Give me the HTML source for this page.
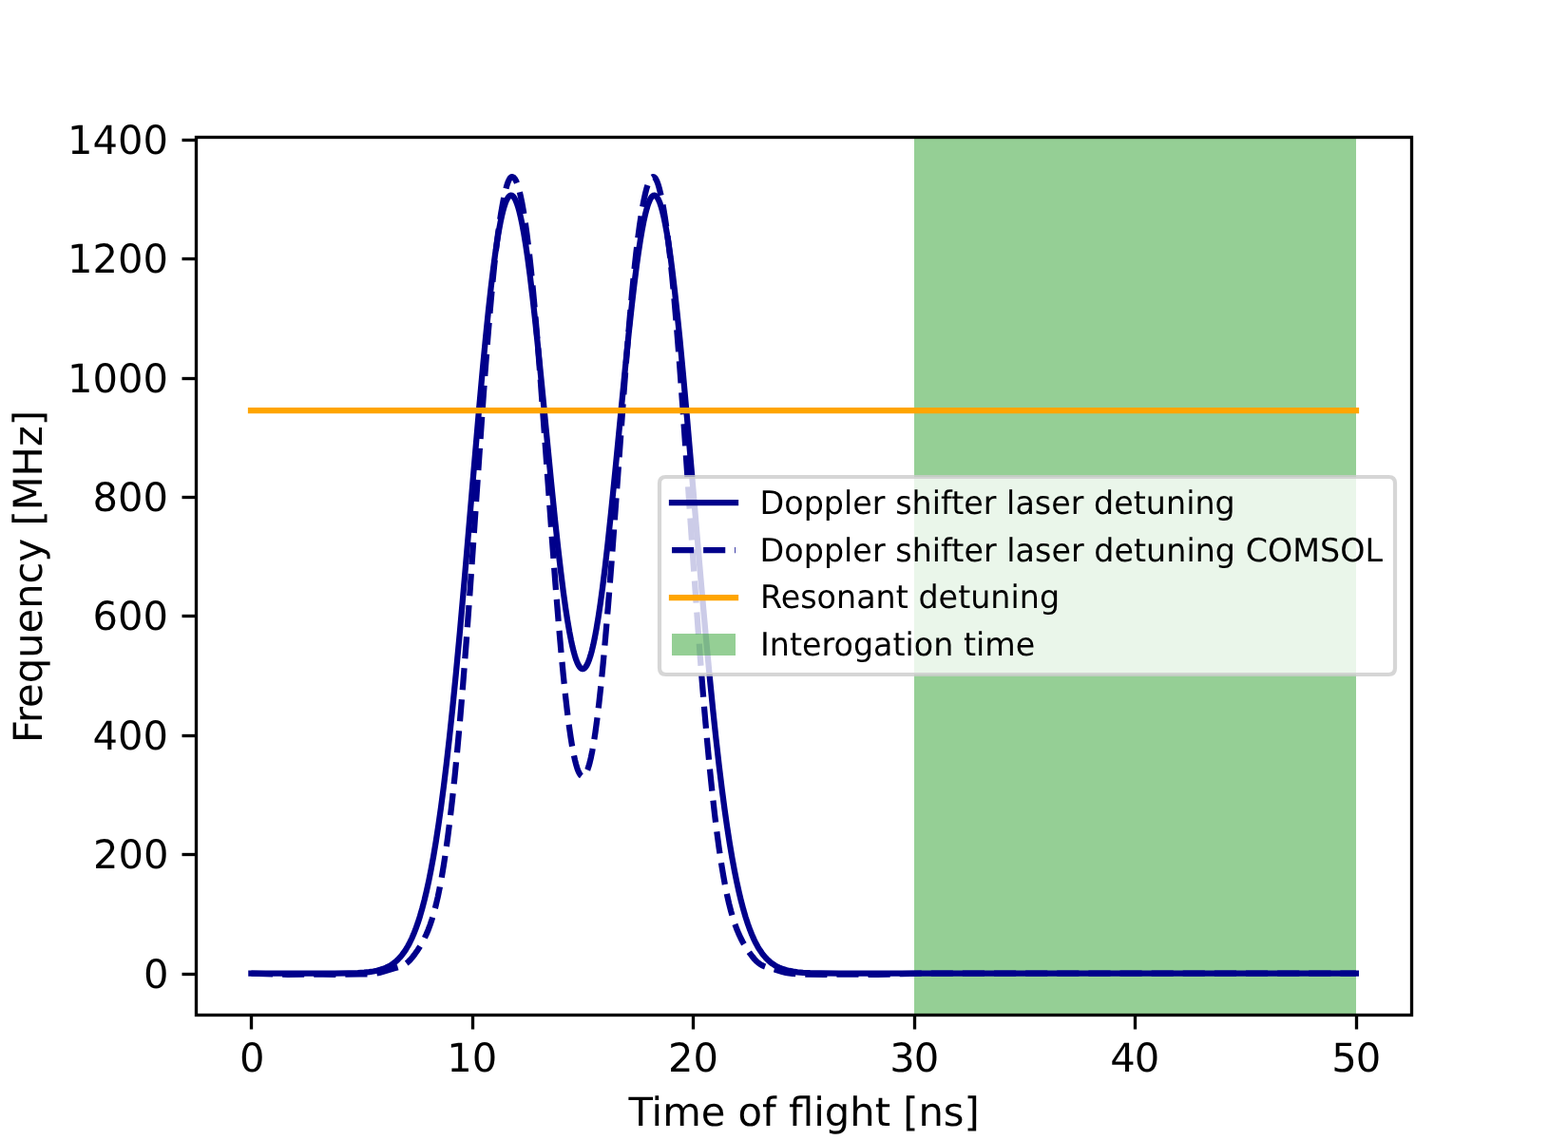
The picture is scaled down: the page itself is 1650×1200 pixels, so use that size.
<!DOCTYPE html>
<html lang="en">
<head>
<meta charset="utf-8">
<title>Doppler shifter laser detuning vs time of flight</title>
<style>
html,body{margin:0;padding:0;background:#fff;overflow:hidden}
svg{display:block}
text{font-family:"DejaVu Sans", "Liberation Sans", sans-serif;fill:#000;text-rendering:geometricPrecision}
.t{font-size:41.667px}
.l{font-size:33.333px}
</style>
</head>
<body>
<svg width="1650" height="1200" viewBox="0 0 1650 1200">
<rect width="1650" height="1200" fill="#fff"/>
<defs><clipPath id="ax"><rect x="206.25" y="144.00" width="1278.75" height="924.00"/></clipPath></defs>
<g clip-path="url(#ax)">
<rect x="962.000" y="144.00" width="465.000" height="924.00" fill="#2ca02c" fill-opacity="0.5"/>
<path d="M264.38 1024.55 L352.14 1024.51 L367.26 1024.34 L376.56 1024.05 L383.24 1023.64 L388.47 1023.12 L392.83 1022.48 L396.61 1021.74 L400.10 1020.84 L403.29 1019.79 L406.20 1018.62 L408.82 1017.35 L411.43 1015.84 L413.76 1014.27 L416.08 1012.45 L418.41 1010.35 L420.73 1007.94 L423.06 1005.19 L425.09 1002.46 L427.12 999.41 L429.16 996.00 L431.19 992.20 L433.23 987.99 L435.26 983.33 L437.30 978.19 L439.62 971.67 L441.95 964.42 L444.27 956.38 L446.60 947.52 L448.92 937.76 L451.25 927.08 L453.57 915.41 L456.19 901.07 L458.80 885.38 L461.42 868.32 L464.03 849.84 L466.94 827.65 L469.85 803.70 L473.04 775.37 L476.24 745.05 L479.73 709.84 L483.80 666.28 L488.74 610.50 L498.04 501.02 L503.85 433.36 L507.92 388.19 L511.12 354.74 L514.02 326.34 L516.64 302.74 L518.96 283.51 L521.00 268.18 L523.03 254.34 L524.78 243.74 L526.52 234.36 L527.97 227.51 L529.42 221.55 L530.59 217.45 L531.75 213.95 L532.91 211.06 L533.78 209.29 L534.66 207.86 L535.53 206.78 L536.40 206.05 L536.98 205.76 L537.56 205.62 L538.14 205.64 L538.73 205.81 L539.31 206.14 L540.18 206.91 L541.05 208.04 L541.92 209.50 L542.79 211.31 L543.96 214.25 L545.12 217.77 L546.57 222.99 L548.02 229.10 L549.48 236.07 L551.22 245.53 L553.26 258.00 L555.29 271.91 L557.62 289.45 L560.23 311.04 L563.14 337.03 L566.62 370.41 L571.57 420.43 L579.99 507.42 L584.06 547.54 L587.26 577.18 L590.17 602.23 L592.78 622.94 L595.11 639.70 L597.14 652.98 L599.17 664.86 L600.92 673.89 L602.37 680.56 L603.83 686.43 L605.28 691.49 L606.44 694.94 L607.60 697.84 L608.48 699.66 L609.35 701.18 L610.22 702.38 L611.09 703.27 L611.96 703.84 L612.54 704.05 L613.12 704.12 L613.71 704.05 L614.29 703.84 L615.16 703.27 L616.03 702.38 L616.90 701.18 L617.78 699.66 L618.94 697.17 L620.10 694.13 L621.26 690.55 L622.72 685.32 L624.17 679.29 L625.91 671.00 L627.66 661.61 L629.69 649.32 L631.73 635.66 L634.05 618.50 L636.67 597.38 L639.57 571.94 L643.06 539.13 L647.42 495.61 L657.88 387.78 L661.66 350.68 L664.86 321.21 L667.47 298.82 L669.80 280.47 L671.83 265.78 L673.87 252.47 L675.61 242.25 L677.35 233.18 L678.81 226.56 L680.26 220.80 L681.42 216.84 L682.58 213.46 L683.75 210.67 L684.62 208.98 L685.49 207.63 L686.36 206.62 L686.94 206.14 L687.52 205.81 L688.11 205.64 L688.69 205.62 L689.27 205.76 L689.85 206.05 L690.72 206.78 L691.59 207.86 L692.47 209.29 L693.34 211.06 L694.50 213.95 L695.66 217.45 L697.12 222.67 L698.57 228.81 L700.02 235.84 L701.77 245.42 L703.51 256.22 L705.54 270.28 L707.58 285.82 L709.90 305.26 L712.52 329.09 L715.43 357.69 L718.91 394.48 L723.27 443.32 L730.54 528.56 L738.09 617.19 L742.74 669.47 L746.81 712.85 L750.30 747.88 L753.50 778.03 L756.69 806.17 L759.60 829.95 L762.51 851.97 L765.12 870.28 L767.74 887.19 L770.35 902.73 L772.97 916.93 L775.29 928.47 L777.62 939.03 L779.94 948.67 L782.27 957.43 L784.59 965.37 L786.92 972.52 L789.24 978.95 L791.28 984.03 L793.31 988.62 L795.35 992.77 L797.38 996.51 L799.42 999.86 L801.45 1002.87 L803.48 1005.55 L805.81 1008.26 L808.13 1010.63 L810.46 1012.69 L812.78 1014.47 L815.40 1016.20 L818.02 1017.65 L820.92 1019.00 L823.83 1020.10 L827.03 1021.08 L830.51 1021.93 L834.58 1022.67 L839.23 1023.28 L845.04 1023.79 L852.31 1024.16 L862.77 1024.41 L882.83 1024.53 L1426.88 1024.55" fill="none" stroke="#00008b" stroke-width="6.250" stroke-linecap="square" stroke-linejoin="round"/>
<path d="M264.38 1024.74 L271.93 1024.87 L291.11 1025.59 L302.74 1025.78 L321.92 1025.74 L339.94 1025.73 L358.83 1025.79 L379.17 1025.50 L387.60 1025.29 L392.25 1024.97 L396.03 1024.49 L399.23 1023.88 L403.29 1022.83 L414.92 1019.30 L420.15 1017.83 L422.48 1017.00 L424.51 1016.06 L426.25 1015.05 L428.00 1013.78 L429.74 1012.26 L431.77 1010.19 L434.10 1007.49 L436.72 1004.08 L439.62 999.91 L442.24 995.82 L444.56 991.80 L446.60 987.89 L448.63 983.55 L450.67 978.70 L452.70 973.25 L454.73 967.11 L456.77 960.18 L458.80 952.38 L460.84 943.59 L462.87 933.74 L464.91 922.75 L466.94 910.58 L468.98 897.18 L471.30 880.35 L473.62 861.86 L475.95 841.70 L478.57 816.99 L481.18 790.14 L484.09 757.86 L487.28 719.50 L490.77 674.53 L494.55 622.67 L499.49 551.19 L506.76 444.48 L510.24 395.73 L513.15 357.65 L515.77 325.91 L518.09 300.10 L520.12 279.61 L522.16 261.25 L523.90 247.17 L525.65 234.58 L527.39 223.41 L529.13 213.58 L530.59 206.36 L532.04 200.09 L533.20 195.83 L534.37 192.29 L535.24 190.15 L536.11 188.45 L536.69 187.58 L537.27 186.91 L537.85 186.47 L538.43 186.23 L539.02 186.17 L539.60 186.27 L540.18 186.53 L540.76 186.98 L541.63 187.97 L542.50 189.37 L543.38 191.18 L544.25 193.38 L545.41 196.92 L546.57 201.13 L548.02 207.32 L549.48 214.48 L550.93 222.62 L552.67 233.71 L554.42 246.25 L556.45 262.69 L558.49 281.06 L560.81 304.32 L563.14 329.84 L565.75 361.01 L568.95 402.15 L573.60 465.98 L580.58 563.17 L584.35 613.16 L587.55 652.81 L590.17 682.96 L592.78 710.72 L595.11 733.12 L597.14 750.79 L598.88 764.40 L600.63 776.53 L602.08 785.46 L603.53 793.28 L604.99 800.00 L606.15 804.58 L607.31 808.44 L608.18 810.87 L609.06 812.90 L609.93 814.53 L610.80 815.77 L611.38 816.37 L611.96 816.81 L612.54 817.06 L613.12 817.15 L613.71 817.06 L614.29 816.81 L614.87 816.37 L615.74 815.40 L616.61 814.03 L617.48 812.27 L618.36 810.10 L619.52 806.60 L620.68 802.38 L621.84 797.45 L623.30 790.28 L624.75 782.02 L626.49 770.66 L628.24 757.78 L630.27 740.92 L632.31 722.20 L634.63 698.70 L637.25 669.84 L640.15 635.13 L643.64 590.45 L648.00 531.19 L655.85 421.72 L659.33 375.61 L662.24 339.95 L664.86 310.50 L667.18 286.66 L669.22 267.75 L671.25 250.75 L672.99 237.73 L674.74 226.16 L676.19 217.62 L677.64 210.06 L679.10 203.49 L680.26 198.94 L681.42 195.06 L682.58 191.87 L683.46 189.93 L684.33 188.40 L685.20 187.26 L685.78 186.73 L686.36 186.38 L686.94 186.20 L687.52 186.18 L688.11 186.32 L688.69 186.66 L689.27 187.22 L689.85 187.99 L690.72 189.53 L691.59 191.53 L692.47 193.97 L693.63 197.87 L694.79 202.48 L696.24 209.14 L697.99 218.33 L699.73 228.82 L701.48 240.70 L703.22 254.02 L705.25 271.48 L707.29 291.07 L709.61 315.95 L712.23 346.78 L715.13 384.03 L718.62 432.04 L724.14 512.52 L730.54 606.16 L734.61 662.83 L738.09 708.55 L741.29 747.69 L744.20 780.73 L746.81 808.28 L749.43 833.70 L752.04 856.98 L754.37 875.89 L756.69 893.13 L759.02 908.74 L761.05 921.08 L763.09 932.24 L765.12 942.25 L767.16 951.18 L769.19 959.12 L771.23 966.17 L773.26 972.42 L775.29 977.96 L777.33 982.89 L779.36 987.30 L781.40 991.26 L783.72 995.34 L786.34 999.48 L789.24 1003.68 L791.86 1007.13 L794.18 1009.87 L796.22 1011.98 L797.96 1013.55 L799.71 1014.86 L801.45 1015.91 L803.48 1016.88 L805.81 1017.73 L810.17 1018.98 L815.98 1020.69 L823.25 1022.91 L827.03 1023.88 L830.22 1024.49 L834.00 1024.97 L838.65 1025.29 L847.08 1025.50 L867.42 1025.79 L886.31 1025.73 L904.33 1025.74 L923.51 1025.78 L935.14 1025.59 L948.80 1025.07 L958.39 1024.77 L991.23 1024.60 L1144.97 1024.55 L1426.88 1024.55" fill="none" stroke="#00008b" stroke-width="6.250" stroke-linecap="butt" stroke-linejoin="round" stroke-dasharray="23.125 10.000" stroke-dashoffset="0.400"/>
<path d="M264.00 432.00 L1427.00 432.00" fill="none" stroke="#ffa500" stroke-width="6.250" stroke-linecap="square"/>
</g>
<g stroke="#000" stroke-width="3.333" fill="none">
<path d="M264.50 1068.50 V1083.50"/>
<path d="M497.50 1068.50 V1083.50"/>
<path d="M729.50 1068.50 V1083.50"/>
<path d="M962.50 1068.50 V1083.50"/>
<path d="M1194.50 1068.50 V1083.50"/>
<path d="M1427.50 1068.50 V1083.50"/>
<path d="M206.50 1025.50 H191.50"/>
<path d="M206.50 899.50 H191.50"/>
<path d="M206.50 774.50 H191.50"/>
<path d="M206.50 648.50 H191.50"/>
<path d="M206.50 523.50 H191.50"/>
<path d="M206.50 398.50 H191.50"/>
<path d="M206.50 272.50 H191.50"/>
<path d="M206.50 147.50 H191.50"/>
</g>
<g class="t" text-anchor="middle">
<text x="265.38" y="1128.00">0</text>
<text x="496.88" y="1128.00">10</text>
<text x="729.62" y="1128.00">20</text>
<text x="961.88" y="1128.00" letter-spacing="-0.8">30</text>
<text x="1193.88" y="1128.00" letter-spacing="-0.8">40</text>
<text x="1426.88" y="1128.00" letter-spacing="-0.8">50</text>
</g>
<g class="t" text-anchor="end">
<text x="177.58" y="1040.00">0</text>
<text x="177.58" y="914.00">200</text>
<text x="177.08" y="789.00">400</text>
<text x="177.08" y="663.00">600</text>
<text x="177.08" y="538.00">800</text>
<text x="177.08" y="413.00">1000</text>
<text x="177.08" y="287.00">1200</text>
<text x="177.08" y="162.00">1400</text>
</g>
<text class="t" text-anchor="middle" x="846.12" y="1185.00">Time of flight [ns]</text>
<text class="t" text-anchor="middle" transform="translate(44.00 607.00) rotate(-90)">Frequency [MHz]</text>
<rect x="206.50" y="144.50" width="1279.00" height="924.00" fill="none" stroke="#000" stroke-width="3.333" stroke-linejoin="miter"/>
<path d="M700.67 502.00 H1461.33 Q1468.00 502.00 1468.00 508.67 V703.33 Q1468.00 710.00 1461.33 710.00 H700.67 Q694.00 710.00 694.00 703.33 V508.67 Q694.00 502.00 700.67 502.00 Z" fill="#fff" fill-opacity="0.8" stroke="#ccc" stroke-opacity="0.8" stroke-width="4.167" stroke-linejoin="miter"/>
<path d="M707.00 529.00 H774.00" stroke="#00008b" stroke-width="6.250" stroke-linecap="square"/>
<path d="M707.00 579.00 H774.00" stroke="#00008b" stroke-width="6.250" stroke-dasharray="23.125 10.000"/>
<path d="M707.00 629.00 H774.00" stroke="#ffa500" stroke-width="6.250" stroke-linecap="square"/>
<rect x="707.00" y="667.00" width="67.00" height="23.00" fill="#2ca02c" fill-opacity="0.5"/>
<g class="l">
<text transform="translate(799.60 541.00) scale(1 1.020)" letter-spacing="0.02">Doppler shifter laser detuning</text>
<text transform="translate(799.60 591.00) scale(1 1.020)" letter-spacing="0.03">Doppler shifter laser detuning COMSOL</text>
<text transform="translate(800.00 640.00) scale(1 1.020)" letter-spacing="0.02">Resonant detuning</text>
<text transform="translate(800.00 690.00) scale(1 1.020)">Interogation time</text>
</g>
</svg>
</body>
</html>
